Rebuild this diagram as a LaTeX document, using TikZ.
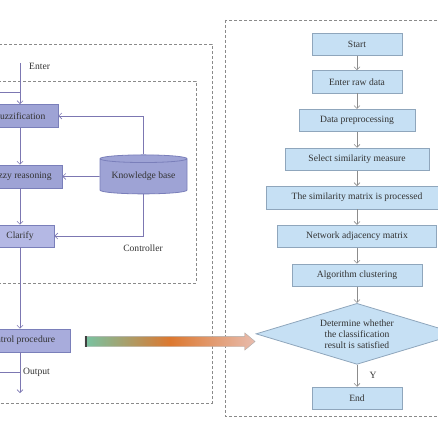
\documentclass[tikz,border=0pt]{standalone}
\usepackage{fontspec}
\setmainfont{Liberation Serif}
\usetikzlibrary{arrows.meta,shapes.geometric,shapes.arrows,positioning}
\definecolor{fuzzyfill}{HTML}{9EA3D5}
\definecolor{clarifyfill}{HTML}{B4B8E4}
\definecolor{procfill}{HTML}{A8ACDC}
\definecolor{fuzzyline}{HTML}{7A7FBA}
\definecolor{fuzzywire}{HTML}{7C77B2}
\definecolor{flowfill}{HTML}{C6E0F4}
\definecolor{flowline}{HTML}{8FA6BC}
\definecolor{flowwire}{HTML}{8C8C8C}
\definecolor{framegray}{HTML}{8A8A8A}
\definecolor{textgray}{HTML}{333333}
\definecolor{arrowgreen}{HTML}{78C3A2}
\definecolor{arroworange}{HTML}{DC7830}
\definecolor{arrowpink}{HTML}{E8BCAE}
\tikzset{fuzzy box/.style={draw=fuzzyline,fill=fuzzyfill,line width=0.8pt,minimum height=23pt,inner sep=0pt}}
\tikzset{flow box/.style={draw=flowline,fill=flowfill,line width=0.8pt,minimum height=22.5pt,inner sep=0pt}}
\tikzset{fuzzy edge/.style={draw=fuzzywire,line width=0.6pt,-{Straight Barb[length=3pt,width=6pt]}}}
\tikzset{fuzzy wire/.style={draw=fuzzywire,line width=0.6pt}}
\tikzset{flow edge/.style={draw=flowwire,line width=0.6pt,-{Straight Barb[length=3pt,width=6pt]}}}
\tikzset{frame line/.style={draw=framegray,line width=0.6pt,dash pattern=on 3pt off 2pt}}

\begin{document}
\begin{tikzpicture}[x=1pt,y=-1pt,every node/.style={text=textgray,font=\fontsize{9.6}{11}\selectfont}]
\useasboundingbox (0,0) rectangle (438,438);
\clip (0,0) rectangle (438,438);

\draw[frame line] (-5,44) rectangle (212,403);
\draw[frame line] (-5,81) rectangle (196,283);
\draw[frame line] (225,20) rectangle (445,416);

\node[fuzzy box,minimum width=76pt] (fuzz) at (20,116) {Fuzzification};
\node[fuzzy box,minimum width=84pt] (reason) at (20,176.5) {Fuzzy reasoning};
\node[fuzzy box,fill=clarifyfill,minimum width=68pt,minimum height=22pt] (clarify) at (20,236) {Clarify};
\node[fuzzy box,fill=procfill,minimum width=100pt] (proc) at (20,340.5) {Control procedure};
\node[cylinder,shape border rotate=90,aspect=0.12,draw=fuzzyline,fill=fuzzyfill,line width=0.8pt,
      minimum width=87pt,minimum height=39pt,inner sep=0pt] (kb) at (143.5,176.5) {Knowledge base};

\coordinate (in) at (20,63);
\coordinate (join) at (20,92);
\coordinate (tap) at (20,372);
\coordinate (back) at (-10,250);
\coordinate (out) at (20,393);
\node[anchor=west,inner sep=1pt] (enter) at (28,66.5) {Enter};
\node[anchor=west,inner sep=1pt] (output) at (22,372) {Output};
\node (controller) at (143,248) {Controller};

\draw[fuzzy edge] (in) -- (fuzz);
\draw[fuzzy edge] (fuzz) -- (reason);
\draw[fuzzy edge] (reason) -- (clarify);
\draw[fuzzy edge] (clarify) -- (proc);
\draw[fuzzy edge] (proc) -- (out);
\draw[fuzzy wire] (tap) -| (back) |- (join);
\draw[fuzzy edge] (kb.top) |- (fuzz);
\draw[fuzzy edge] (kb) -- (reason);
\draw[fuzzy edge] (kb.bottom) |- (clarify);

\node[single arrow,minimum height=170pt,inner xsep=0pt,inner ysep=5pt,single arrow head extend=3.5pt,
      single arrow head indent=0pt,single arrow tip angle=80,draw=framegray!70,line width=0.4pt,
      left color=arrowgreen,right color=arrowpink,middle color=arroworange] (bigarrow) at (167,341.5) {};
\draw[black!75,line width=2pt] ([xshift=1pt]bigarrow.after tail) -- ([xshift=1pt]bigarrow.before tail);

\node[flow box,minimum width=90pt] (start) at (357,44.5) {Start};
\node[flow box,minimum width=90pt,below=14pt of start] (raw) {Enter raw data};
\node[flow box,minimum width=116pt,below=15.5pt of raw] (prep) {Data preprocessing};
\node[flow box,minimum width=144pt,below=15.5pt of prep] (select) {Select similarity measure};
\node[flow box,minimum width=182pt,below=15pt of select] (matrix) {The similarity matrix is processed};
\node[flow box,minimum width=159pt,below=15.5pt of matrix] (adjacency) {Network adjacency matrix};
\node[flow box,minimum width=130pt,below=15.5pt of adjacency] (cluster) {Algorithm clustering};
\node[diamond,draw=flowline,fill=flowfill,line width=0.8pt,aspect=3.3,inner sep=0pt,
      minimum width=202pt,minimum height=61pt,align=center,below=16pt of cluster] (judge)
      {Determine whether\\the classification\\result is satisfied};
\node[flow box,minimum width=90pt,below=22pt of judge] (end) {End};

\draw[flow edge] (start) -- (raw);
\draw[flow edge] (raw) -- (prep);
\draw[flow edge] (prep) -- (select);
\draw[flow edge] (select) -- (matrix);
\draw[flow edge] (matrix) -- (adjacency);
\draw[flow edge] (adjacency) -- (cluster);
\draw[flow edge] (cluster) -- (judge);
\draw[flow edge] (judge) -- node[right=9pt] {Y} (end);

\end{tikzpicture}
\end{document}
